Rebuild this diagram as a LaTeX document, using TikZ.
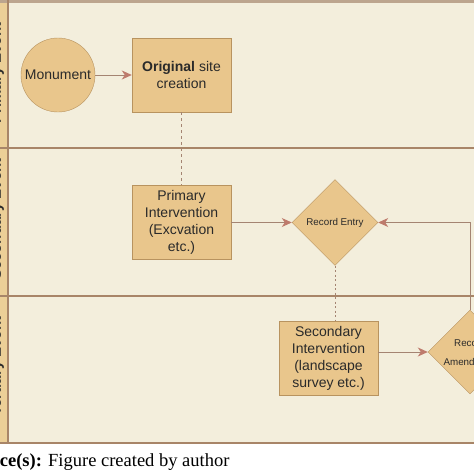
\documentclass[tikz,border=0pt]{standalone}
\usepackage{fontspec}
\setmainfont{Liberation Serif}
\setsansfont{Liberation Sans}
\usetikzlibrary{shapes.geometric,arrows.meta}

\definecolor{cream}{HTML}{F3EEDC}
\definecolor{lanetan}{HTML}{ECCF97}
\definecolor{nodefill}{HTML}{E9C68C}
\definecolor{nodeedge}{HTML}{B8935F}
\definecolor{lanerule}{HTML}{A88568}
\definecolor{toprule}{HTML}{BCA58E}
\definecolor{wirecol}{HTML}{A48472}
\definecolor{tipcol}{HTML}{BE7B6C}
\definecolor{ink}{HTML}{2A2A2A}

\tikzset{
  box/.style={draw=nodeedge,fill=nodefill,minimum width=99pt,minimum height=74pt,
    align=center,text=ink,font=\sffamily\fontsize{14}{17}\selectfont},
  decision/.style={diamond,draw=nodeedge,fill=nodefill,minimum size=86pt,inner sep=0pt,
    align=center,text=ink,font=\sffamily\fontsize{9.8}{19}\selectfont},
  wire/.style={draw=wirecol,line width=0.9pt},
  flow/.style={wire,-{Stealth[length=10pt,width=9pt,inset=3pt,color=tipcol]}},
  lanelabel/.style={rotate=90,anchor=base,inner sep=0pt,text=ink,
    font=\sffamily\bfseries\fontsize{15}{15}\selectfont}
}

\begin{document}
\begin{tikzpicture}[x=1pt,y=-1pt]
  \useasboundingbox (0,0) rectangle (474,474);
  \clip (0,0) rectangle (474,474);
  % lanes
  \fill[cream] (0,0) rectangle (474,443);
  \fill[lanetan] (0,2) rectangle (8,443);
  \draw[toprule,line width=3pt] (0,1.5) -- (474,1.5);
  \draw[lanerule,line width=1.2pt] (0,148) -- (474,148);
  \draw[lanerule,line width=1.2pt] (0,296) -- (474,296);
  \draw[lanerule,line width=1.2pt] (0,443) -- (474,443);
  \draw[lanerule,line width=1.2pt] (8,0) -- (8,443);
  \node[lanelabel] (lane1) at (1,73) {Primary Event};
  \node[lanelabel] (lane2) at (1,219) {Secondary Event};
  \node[lanelabel] (lane3) at (1,366) {Tertiary Event};

  % steps
  \node[circle,draw=nodeedge,fill=nodefill,minimum size=74pt,inner sep=0pt,text=ink,
    font=\sffamily\fontsize{14}{17}\selectfont] (monument) at (58,75) {Monument};
  \node[box] (origin) at (181.5,75) {\textbf{Original} site\\creation};
  \node[box] (primary) at (181.5,222.5) {Primary\\Intervention\\(Excvation\\etc.)};
  \node[decision] (entry) at (335,222.5) {Record Entry};
  \node[box] (secondary) at (328.5,358) {Secondary\\Intervention\\(landscape\\survey etc.)};
  \node[decision,minimum size=84pt] (amend) at (470,352) {Record\\Amendment};

  \draw[flow] (monument) -- (origin);
  \draw[wire,dashed] (origin) -- (primary);
  \draw[flow] (primary) -- (entry);
  \draw[wire,dash pattern=on 2pt off 2.5pt] (entry.south) -- (entry.south |- secondary.north);
  \draw[flow] (secondary.east |- amend) -- (amend);
  \draw[flow] (amend.north) |- (entry.east);

  \node[anchor=base west,inner sep=0pt,font=\fontsize{18.5}{20}\selectfont] (source)
    at (-38,466) {\textbf{Source(s):} Figure created by author};
\end{tikzpicture}
\end{document}
